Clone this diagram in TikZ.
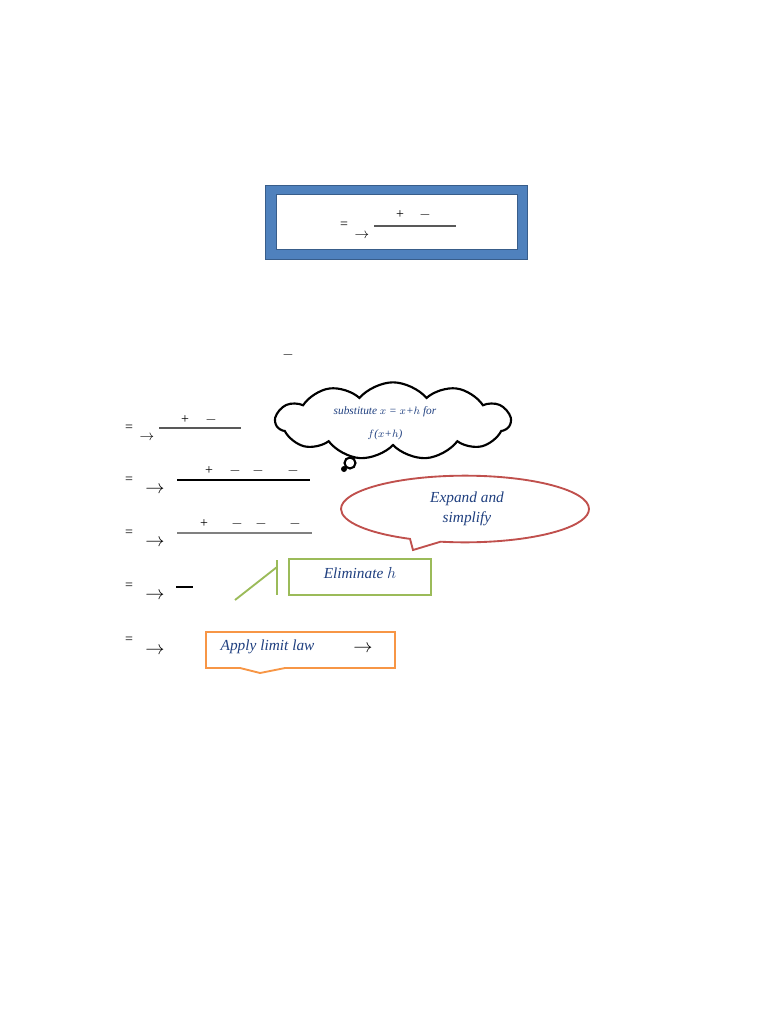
\documentclass[tikz,border=0pt]{standalone}
\usepackage{fontspec}
\setmainfont{Liberation Serif}
\usetikzlibrary{shapes.symbols,shapes.callouts,shapes.geometric}
\definecolor{boxblue}{HTML}{4F81BD}
\definecolor{boxedge}{HTML}{385D8A}
\definecolor{txtblue}{HTML}{1F3F7F}
\definecolor{cred}{HTML}{C0504D}
\definecolor{cgreen}{HTML}{9BBB59}
\definecolor{corange}{HTML}{F79646}
\tikzset{
  sym/.style={inner sep=0pt,font=\fontsize{10.5}{10}\selectfont},
  arr/.style={inner sep=0pt,font=\fontsize{14}{14}\selectfont},
  frac/.style={line width=0.9pt,gray!70!black},
  note/.style={text=txtblue,font=\itshape\fontsize{11.5}{15}\selectfont,align=center},
}
\begin{document}
\begin{tikzpicture}[x=0.75pt,y=-0.75pt]
\useasboundingbox (0,0) rectangle (768,1024);
% top box
\node[draw=boxedge,fill=boxblue,line width=0.8pt,minimum width=197pt,minimum height=55pt,inner sep=0pt] (outer) at (396.5,222.5) {};
\node[fill=white,draw=boxedge,line width=0.5pt,minimum width=181pt,minimum height=41pt,inner sep=0pt] (inner) at (397,222) {};
\node[sym] (b1) at (344,225) {=};
\node[sym] (b2) at (362,236) {$\rightarrow$};
\node[sym] (b3) at (400,215) {+};
\node[sym] (b4) at (425,215) {$-$};
\draw[frac] (374,226) -- (456,226);
% lone minus
\node[sym] (m0) at (288,355) {$-$};
% line 1
\node[sym] (e1) at (129,428) {=};
\node[sym] (a1) at (147,438) {$\rightarrow$};
\node[sym] (p1) at (185,420) {+};
\node[sym] (q1) at (211,420) {$-$};
\draw[frac] (159,428) -- (241,428);
% line 2
\node[sym] (e2) at (129,480) {=};
\node[arr] (a2) at (155,490) {$\rightarrow$};
\node[sym] (p2) at (209,471) {+};
\node[sym] (q2) at (235,471) {$-$};
\node[sym] (r2) at (258,471) {$-$};
\node[sym] (s2) at (293,471) {$-$};
\draw[frac,black] (177,480) -- (310,480);
% line 3
\node[sym] (e3) at (129,533) {=};
\node[arr] (a3) at (155,543) {$\rightarrow$};
\node[sym] (p3) at (204,524) {+};
\node[sym] (q3) at (237,524) {$-$};
\node[sym] (r3) at (261,524) {$-$};
\node[sym] (s3) at (295,524) {$-$};
\draw[frac,gray] (177,533) -- (312,533);
% line 4
\node[sym] (e4) at (129,586) {=};
\node[arr] (a4) at (155,596) {$\rightarrow$};
\draw[line width=0.8pt] (176,587) -- (193,587);
% line 5
\node[sym] (e5) at (129,640) {=};
\node[arr] (a5) at (155,651) {$\rightarrow$};
% cloud
\node[cloud,cloud puffs=11,cloud puff arc=100,aspect=3,draw,line width=1.6pt,minimum width=176pt,minimum height=58pt,inner sep=0pt] (cloud) at (393,421) {};
\node[text=txtblue,font=\itshape\fontsize{8.5}{17}\selectfont,align=center] (ct) at (385,423) {substitute $x$ = $x$+$h$ for\\ $f$($x$+$h$)};
\draw[line width=1.6pt] (350,463) circle (5.5);
\fill (344,469) circle (3);
% ellipse callout
\node[ellipse callout,draw=cred,line width=1.4pt,minimum width=186pt,minimum height=50pt,callout absolute pointer={(413,550)}] (ell) at (465,509) {};
\node[note] (et) at (467,509) {Expand and\\ simplify};
% eliminate h
\node[draw=cgreen,line width=1.4pt,minimum width=106pt,minimum height=27pt,inner sep=0pt] (elim) at (360,577) {};
\node[note] (elt) at (360,573) {Eliminate $h$};
\coordinate (g1) at (277,560);
\coordinate (g2) at (277,595);
\coordinate (g3) at (235,600);
\coordinate (g4) at (277,567);
\draw[cgreen,line width=1.4pt] (g1) -- (g2);
\draw[cgreen,line width=1.4pt] (g3) -- (g4);
% apply limit law
\coordinate (o1) at (206,632);
\coordinate (o2) at (395,632);
\coordinate (o3) at (395,668);
\coordinate (o4) at (285,668);
\coordinate (o5) at (260,673);
\coordinate (o6) at (240,668);
\coordinate (o7) at (206,668);
\draw[corange,line width=1.4pt] (o1) -- (o2) -- (o3) -- (o4) -- (o5) -- (o6) -- (o7) -- cycle;
\node[note,anchor=west] (alt) at (216,647) {Apply limit law};
\node[arr] (alarr) at (363,649) {$\rightarrow$};
\end{tikzpicture}
\end{document}
